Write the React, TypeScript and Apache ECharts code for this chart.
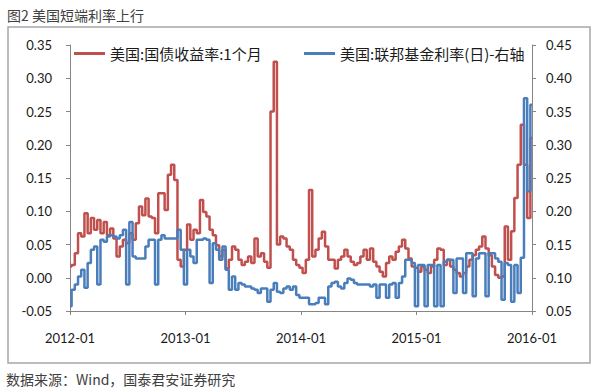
import React, { useEffect, useRef } from "react";
import * as echarts from "echarts";

const TITLE = "图2 美国短端利率上行";
const SOURCE = "数据来源：Wind，国泰君安证券研究";
const SERIES_NAMES = ["美国:国债收益率:1个月", "美国:联邦基金利率(日)-右轴"];
const START_YEAR = 2012;
const END_YEAR = 2016;
const STEPS_PER_YEAR = 36; // one reading roughly every 10 days

// 美国:国债收益率:1个月 (left axis)
const billYield = [
  0.017, 0.019, 0.037, 0.067, 0.062, 0.097, 0.067, 0.090, 0.072, 0.087,
  0.067, 0.084, 0.064, 0.074, 0.059, 0.032, 0.047, 0.057, 0.052, 0.067,
  0.057, 0.082, 0.107, 0.094, 0.119, 0.092, 0.090, 0.067, 0.127, 0.127,
  0.102, 0.155, 0.170, 0.147, 0.027, 0.017, 0.042, 0.080, 0.057, 0.072,
  0.067, 0.117, 0.099, 0.092, 0.072, 0.064, 0.049, 0.032, 0.042, 0.014,
  0.027, 0.047, 0.042, 0.027, 0.019, 0.024, 0.032, 0.022, 0.059, 0.032,
  0.037, 0.024, 0.015, 0.250, 0.325, 0.050, 0.062, 0.059, 0.047, 0.042,
  0.027, 0.019, 0.015, 0.007, 0.027, 0.132, 0.032, 0.042, 0.059, 0.069,
  0.047, 0.027, 0.027, 0.014, 0.027, 0.032, 0.042, 0.032, 0.024, 0.019,
  0.022, 0.032, 0.042, 0.027, 0.044, 0.024, 0.017, 0.009, 0.002, 0.022,
  0.032, 0.027, 0.039, 0.047, 0.057, 0.044, 0.029, 0.017, 0.015, 0.009,
  0.017, 0.012, 0.007, 0.017, 0.027, 0.044, 0.042, 0.019, 0.027, 0.017,
  0.012, 0.007, 0.002, 0.007, 0.017, 0.027, 0.034, 0.042, 0.047, 0.062,
  0.044, 0.034, 0.017, 0.004, 0.000, 0.002, 0.077, 0.027, 0.070, 0.120,
  0.170, 0.230, 0.170, 0.090, 0.210,
];

// 美国:联邦基金利率(日) (right axis)
const fedFunds = [
  0.057, 0.082, 0.090, 0.102, 0.112, 0.085, 0.122, 0.142, 0.147, 0.090,
  0.157, 0.154, 0.162, 0.164, 0.162, 0.159, 0.164, 0.172, 0.090, 0.184,
  0.132, 0.129, 0.129, 0.129, 0.147, 0.157, 0.157, 0.090, 0.157, 0.164,
  0.159, 0.159, 0.159, 0.159, 0.172, 0.142, 0.090, 0.142, 0.132, 0.122,
  0.157, 0.157, 0.159, 0.157, 0.092, 0.152, 0.142, 0.127, 0.147, 0.112,
  0.082, 0.102, 0.082, 0.092, 0.090, 0.087, 0.087, 0.084, 0.082, 0.077,
  0.084, 0.084, 0.064, 0.082, 0.092, 0.079, 0.077, 0.084, 0.087, 0.082,
  0.087, 0.074, 0.070, 0.070, 0.070, 0.060, 0.060, 0.062, 0.070, 0.070,
  0.060, 0.087, 0.092, 0.094, 0.087, 0.084, 0.092, 0.099, 0.097, 0.092,
  0.090, 0.090, 0.090, 0.090, 0.087, 0.090, 0.070, 0.090, 0.090, 0.070,
  0.090, 0.092, 0.070, 0.092, 0.102, 0.127, 0.127, 0.122, 0.057, 0.119,
  0.119, 0.057, 0.119, 0.119, 0.057, 0.119, 0.057, 0.124, 0.127, 0.127,
  0.077, 0.129, 0.129, 0.077, 0.137, 0.137, 0.072, 0.129, 0.137, 0.137,
  0.072, 0.137, 0.137, 0.129, 0.124, 0.067, 0.122, 0.119, 0.064, 0.119,
  0.077, 0.130, 0.370, 0.230, 0.360,
];

const LEFT_AXIS = { min: -0.05, max: 0.35, interval: 0.05 };
const RIGHT_AXIS = { min: 0.05, max: 0.45, interval: 0.05 };

const RED = "#c0504d";
const BLUE = "#4a7ebb";
const AXIS_COLOR = "#868686";
const LABEL_FONT = "Lato, 'Noto Sans', sans-serif";
const CJK_FONT = "'Noto Sans CJK SC', sans-serif";

export default function App() {
  const ref = useRef<HTMLDivElement>(null);

  useEffect(() => {
    if (!ref.current) return;
    const chart = echarts.init(ref.current, null, { renderer: "svg" });
    const toPairs = (arr: number[]) =>
      arr.map((v, i) => [START_YEAR + i / STEPS_PER_YEAR, v]);

    const yLabel = {
      formatter: (v: number) => v.toFixed(2),
      fontSize: 13,
      color: "#1a1a1a",
      fontFamily: LABEL_FONT,
    };
    const legendText = {
      fontSize: 15,
      color: "#1a1a1a",
      fontFamily: CJK_FONT,
    };

    chart.setOption({
      animation: false,
      backgroundColor: "#ffffff",
      grid: { left: 70, right: 68, top: 45, bottom: 78, containLabel: false },
      legend: [
        {
          data: [SERIES_NAMES[0]],
          left: 69,
          top: 41,
          icon: "rect",
          itemWidth: 31,
          itemHeight: 3,
          textStyle: legendText,
        },
        {
          data: [SERIES_NAMES[1]],
          left: 299,
          top: 41,
          icon: "rect",
          itemWidth: 31,
          itemHeight: 3,
          textStyle: legendText,
        },
      ],
      xAxis: {
        type: "value",
        min: START_YEAR,
        max: END_YEAR,
        interval: 1,
        axisLine: { onZero: false, lineStyle: { color: AXIS_COLOR, width: 1 } },
        axisTick: { show: true, length: 4, lineStyle: { color: AXIS_COLOR } },
        splitLine: { show: false },
        axisLabel: {
          formatter: (v: number) => `${v}-01`,
          margin: 20,
          fontSize: 13,
          color: "#1a1a1a",
          fontFamily: LABEL_FONT,
        },
      },
      yAxis: [
        {
          type: "value",
          position: "left",
          ...LEFT_AXIS,
          axisLine: { show: true, lineStyle: { color: AXIS_COLOR, width: 1 } },
          axisTick: { show: true, length: 4, lineStyle: { color: AXIS_COLOR } },
          splitLine: { show: false },
          axisLabel: { ...yLabel, margin: 18 },
        },
        {
          type: "value",
          position: "right",
          ...RIGHT_AXIS,
          axisLine: { show: true, lineStyle: { color: AXIS_COLOR, width: 1 } },
          axisTick: { show: true, length: 4, lineStyle: { color: AXIS_COLOR } },
          splitLine: { show: false },
          axisLabel: { ...yLabel, margin: 14 },
        },
      ],
      series: [
        {
          name: SERIES_NAMES[0],
          type: "line",
          yAxisIndex: 0,
          data: toPairs(billYield),
          step: "middle",
          showSymbol: false,
          symbol: "none",
          lineStyle: { color: RED, width: 2.5 },
          itemStyle: { color: RED },
        },
        {
          name: SERIES_NAMES[1],
          type: "line",
          yAxisIndex: 1,
          data: toPairs(fedFunds),
          step: "middle",
          showSymbol: false,
          symbol: "none",
          lineStyle: { color: BLUE, width: 2.5 },
          itemStyle: { color: BLUE },
        },
      ],
      graphic: [
        {
          type: "rect",
          z: -1,
          shape: { x: 8, y: 27, width: 582, height: 336 },
          style: { fill: "none", stroke: "#a6a6a6", lineWidth: 1.5 },
        },
        {
          type: "text",
          x: 7,
          y: 15,
          style: {
            text: TITLE,
            fontSize: 14,
            fill: "#404040",
            fontFamily: CJK_FONT,
            verticalAlign: "middle",
          },
        },
        {
          type: "text",
          x: 6,
          y: 379,
          style: {
            text: SOURCE,
            fontSize: 14,
            fill: "#404040",
            fontFamily: CJK_FONT,
            verticalAlign: "middle",
          },
        },
      ],
    });

    return () => chart.dispose();
  }, []);

  return (
    <div
      ref={ref}
      style={{ position: "fixed", left: 0, top: 0, width: 600, height: 389, background: "#fff" }}
    />
  );
}
